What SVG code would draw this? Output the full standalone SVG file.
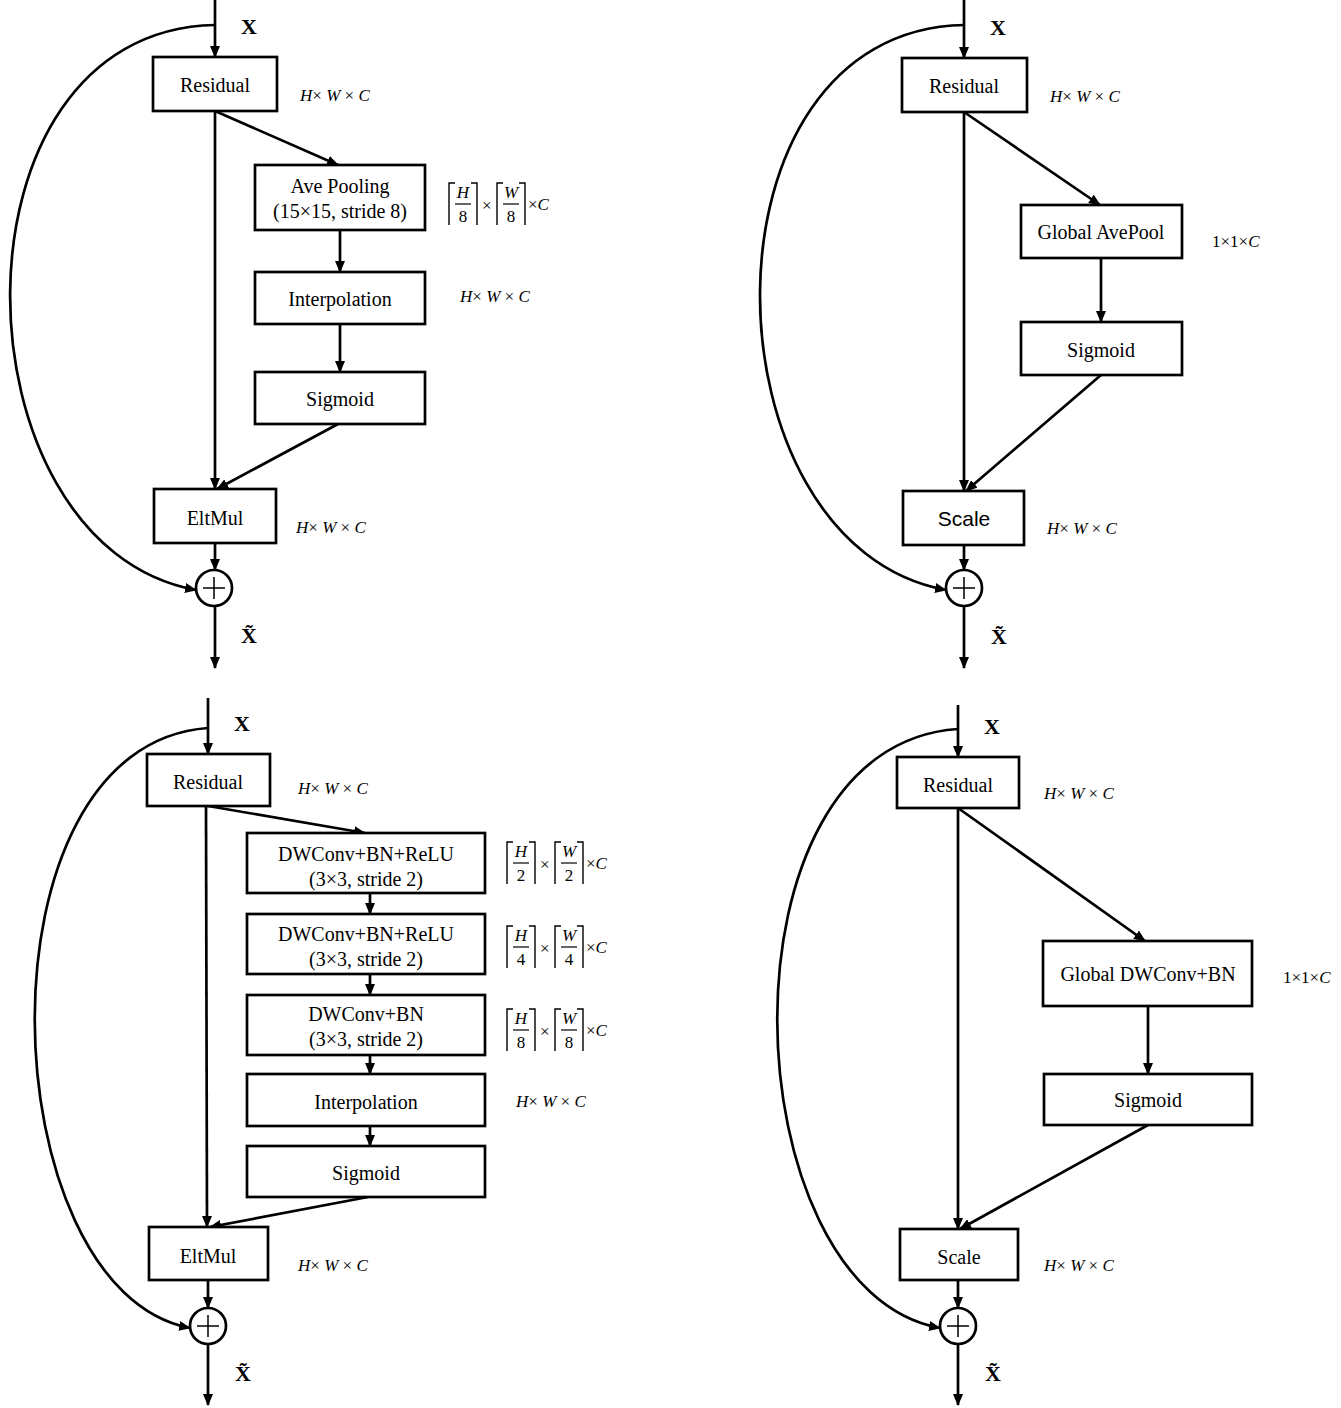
<svg xmlns="http://www.w3.org/2000/svg" width="1341" height="1408" viewBox="0 0 1341 1408">
<defs>
<marker id="ah" markerWidth="12" markerHeight="10" refX="11" refY="5" orient="auto" markerUnits="userSpaceOnUse"><path d="M0,0 L12,5 L0,10 z" fill="#000"/></marker>
<g id="frac"><path d="M6,0 H0 V42 M22,0 H28 V42" fill="none" stroke="#000" stroke-width="1.4"/><line x1="6" y1="21" x2="22" y2="21" stroke="#000" stroke-width="1.2"/></g>
</defs>
<style>
.b{fill:#fff;stroke:#000;stroke-width:2.7}
.c{fill:none;stroke:#000;stroke-width:2.7}
.t{font-family:"Liberation Serif",serif;font-size:20px;text-anchor:middle}
.s{font-family:"Liberation Sans",sans-serif;font-size:21px;text-anchor:middle}
.m{font-family:"Liberation Serif",serif;font-size:17px;font-style:italic}
.n{font-family:"Liberation Serif",serif;font-size:17px;font-style:normal}
.x{font-family:"Liberation Serif",serif;font-size:22px;font-weight:bold}
</style>
<g id="connectors">
<line class="c" x1="215" y1="0" x2="215" y2="57" marker-end="url(#ah)"/>
<line class="c" x1="215" y1="111" x2="338" y2="165" marker-end="url(#ah)"/>
<line class="c" x1="340" y1="230" x2="340" y2="272" marker-end="url(#ah)"/>
<line class="c" x1="340" y1="324" x2="340" y2="372" marker-end="url(#ah)"/>
<line class="c" x1="338" y1="424" x2="217" y2="489" marker-end="url(#ah)"/>
<line class="c" x1="215" y1="111" x2="215" y2="489" marker-end="url(#ah)"/>
<line class="c" x1="215" y1="543" x2="215" y2="570" marker-end="url(#ah)"/>
<line class="c" x1="215" y1="606" x2="215" y2="668" marker-end="url(#ah)"/>
<path class="c" d="M215,25 C-60,30 -50,545 196,590" marker-end="url(#ah)"/>
<line class="c" x1="964" y1="0" x2="964" y2="58" marker-end="url(#ah)"/>
<line class="c" x1="964" y1="112" x2="1100" y2="205" marker-end="url(#ah)"/>
<line class="c" x1="1101" y1="258" x2="1101" y2="322" marker-end="url(#ah)"/>
<line class="c" x1="1101" y1="375" x2="966" y2="491" marker-end="url(#ah)"/>
<line class="c" x1="964" y1="112" x2="964" y2="491" marker-end="url(#ah)"/>
<line class="c" x1="964" y1="545" x2="964" y2="570" marker-end="url(#ah)"/>
<line class="c" x1="964" y1="606" x2="964" y2="668" marker-end="url(#ah)"/>
<path class="c" d="M964,25 C690,30 700,545 946,590" marker-end="url(#ah)"/>
<line class="c" x1="208" y1="698" x2="208" y2="754" marker-end="url(#ah)"/>
<line class="c" x1="208" y1="806" x2="365" y2="833" marker-end="url(#ah)"/>
<line class="c" x1="370" y1="893" x2="370" y2="914" marker-end="url(#ah)"/>
<line class="c" x1="370" y1="974" x2="370" y2="995" marker-end="url(#ah)"/>
<line class="c" x1="370" y1="1055" x2="370" y2="1074" marker-end="url(#ah)"/>
<line class="c" x1="370" y1="1126" x2="370" y2="1146" marker-end="url(#ah)"/>
<line class="c" x1="368" y1="1197" x2="210" y2="1227" marker-end="url(#ah)"/>
<line class="c" x1="206" y1="806" x2="207" y2="1227" marker-end="url(#ah)"/>
<line class="c" x1="208" y1="1280" x2="208" y2="1308" marker-end="url(#ah)"/>
<line class="c" x1="208" y1="1344" x2="208" y2="1405" marker-end="url(#ah)"/>
<path class="c" d="M208,728 C-30,745 -10,1290 190,1328" marker-end="url(#ah)"/>
<line class="c" x1="958" y1="705" x2="958" y2="757" marker-end="url(#ah)"/>
<line class="c" x1="958" y1="808" x2="1145" y2="941" marker-end="url(#ah)"/>
<line class="c" x1="1148" y1="1006" x2="1148" y2="1074" marker-end="url(#ah)"/>
<line class="c" x1="1148" y1="1125" x2="960" y2="1229" marker-end="url(#ah)"/>
<line class="c" x1="958" y1="808" x2="958" y2="1229" marker-end="url(#ah)"/>
<line class="c" x1="958" y1="1280" x2="958" y2="1308" marker-end="url(#ah)"/>
<line class="c" x1="958" y1="1344" x2="958" y2="1405" marker-end="url(#ah)"/>
<path class="c" d="M958,729 C710,745 730,1290 940,1328" marker-end="url(#ah)"/>
</g>
<g id="p1-x"><text class="x" x="241" y="34">X</text></g>
<g id="p1-res"><rect class="b" x="153" y="57" width="124" height="54"/><text class="t" x="215" y="92">Residual</text><text class="m" x="300" y="101">H<tspan class="n">×</tspan> W <tspan class="n">×</tspan> C</text></g>
<g id="p1-pool"><rect class="b" x="255" y="165" width="170" height="65"/><text class="t" x="340" y="193">Ave Pooling</text><text class="t" x="340" y="218">(15×15, stride 8)</text>
<g transform="translate(449,183)"><use href="#frac"/><text class="m" x="14" y="15" text-anchor="middle">H</text><text class="n" x="14" y="39" text-anchor="middle">8</text><text class="n" x="33" y="28">×</text><use href="#frac" x="48"/><text class="m" x="62" y="15" text-anchor="middle">W</text><text class="n" x="62" y="39" text-anchor="middle">8</text><text class="m" x="79" y="27"><tspan class="n">×</tspan>C</text></g></g>
<g id="p1-interp"><rect class="b" x="255" y="272" width="170" height="52"/><text class="t" x="340" y="306">Interpolation</text><text class="m" x="460" y="302">H<tspan class="n">×</tspan> W <tspan class="n">×</tspan> C</text></g>
<g id="p1-sig"><rect class="b" x="255" y="372" width="170" height="52"/><text class="t" x="340" y="406">Sigmoid</text></g>
<g id="p1-elt"><rect class="b" x="154" y="489" width="122" height="54"/><text class="t" x="215" y="525">EltMul</text><text class="m" x="296" y="533">H<tspan class="n">×</tspan> W <tspan class="n">×</tspan> C</text></g>
<g id="p1-add"><circle class="b" cx="214" cy="588" r="18"/><path d="M203,588 H225 M214,577 V599" stroke="#000" stroke-width="1.5"/><text class="x" x="241" y="643">X̃</text></g>
<g id="p2-x"><text class="x" x="990" y="35">X</text></g>
<g id="p2-res"><rect class="b" x="902" y="58" width="125" height="54"/><text class="t" x="964" y="93">Residual</text><text class="m" x="1050" y="102">H<tspan class="n">×</tspan> W <tspan class="n">×</tspan> C</text></g>
<g id="p2-gap"><rect class="b" x="1021" y="205" width="161" height="53"/><text class="t" x="1101" y="239">Global AvePool</text><text class="m" x="1212" y="247"><tspan class="n">1×1×</tspan>C</text></g>
<g id="p2-sig"><rect class="b" x="1021" y="322" width="161" height="53"/><text class="t" x="1101" y="357">Sigmoid</text></g>
<g id="p2-scale"><rect class="b" x="903" y="491" width="121" height="54"/><text class="s" x="964" y="526">Scale</text><text class="m" x="1047" y="534">H<tspan class="n">×</tspan> W <tspan class="n">×</tspan> C</text></g>
<g id="p2-add"><circle class="b" cx="964" cy="588" r="18"/><path d="M953,588 H975 M964,577 V599" stroke="#000" stroke-width="1.5"/><text class="x" x="991" y="644">X̃</text></g>
<g id="p3-x"><text class="x" x="234" y="731">X</text></g>
<g id="p3-res"><rect class="b" x="147" y="754" width="123" height="52"/><text class="t" x="208" y="789">Residual</text><text class="m" x="298" y="794">H<tspan class="n">×</tspan> W <tspan class="n">×</tspan> C</text></g>
<g id="p3-dw1"><rect class="b" x="247" y="833" width="238" height="60"/><text class="t" x="366" y="861">DWConv+BN+ReLU</text><text class="t" x="366" y="886">(3×3, stride 2)</text>
<g transform="translate(507,842)"><use href="#frac"/><text class="m" x="14" y="15" text-anchor="middle">H</text><text class="n" x="14" y="39" text-anchor="middle">2</text><text class="n" x="33" y="28">×</text><use href="#frac" x="48"/><text class="m" x="62" y="15" text-anchor="middle">W</text><text class="n" x="62" y="39" text-anchor="middle">2</text><text class="m" x="79" y="27"><tspan class="n">×</tspan>C</text></g></g>
<g id="p3-dw2"><rect class="b" x="247" y="914" width="238" height="60"/><text class="t" x="366" y="941">DWConv+BN+ReLU</text><text class="t" x="366" y="966">(3×3, stride 2)</text>
<g transform="translate(507,926)"><use href="#frac"/><text class="m" x="14" y="15" text-anchor="middle">H</text><text class="n" x="14" y="39" text-anchor="middle">4</text><text class="n" x="33" y="28">×</text><use href="#frac" x="48"/><text class="m" x="62" y="15" text-anchor="middle">W</text><text class="n" x="62" y="39" text-anchor="middle">4</text><text class="m" x="79" y="27"><tspan class="n">×</tspan>C</text></g></g>
<g id="p3-dw3"><rect class="b" x="247" y="995" width="238" height="60"/><text class="t" x="366" y="1021">DWConv+BN</text><text class="t" x="366" y="1046">(3×3, stride 2)</text>
<g transform="translate(507,1009)"><use href="#frac"/><text class="m" x="14" y="15" text-anchor="middle">H</text><text class="n" x="14" y="39" text-anchor="middle">8</text><text class="n" x="33" y="28">×</text><use href="#frac" x="48"/><text class="m" x="62" y="15" text-anchor="middle">W</text><text class="n" x="62" y="39" text-anchor="middle">8</text><text class="m" x="79" y="27"><tspan class="n">×</tspan>C</text></g></g>
<g id="p3-interp"><rect class="b" x="247" y="1074" width="238" height="52"/><text class="t" x="366" y="1109">Interpolation</text><text class="m" x="516" y="1107">H<tspan class="n">×</tspan> W <tspan class="n">×</tspan> C</text></g>
<g id="p3-sig"><rect class="b" x="247" y="1146" width="238" height="51"/><text class="t" x="366" y="1180">Sigmoid</text></g>
<g id="p3-elt"><rect class="b" x="149" y="1227" width="119" height="53"/><text class="t" x="208" y="1263">EltMul</text><text class="m" x="298" y="1271">H<tspan class="n">×</tspan> W <tspan class="n">×</tspan> C</text></g>
<g id="p3-add"><circle class="b" cx="208" cy="1326" r="18"/><path d="M197,1326 H219 M208,1315 V1337" stroke="#000" stroke-width="1.5"/><text class="x" x="235" y="1381">X̃</text></g>
<g id="p4-x"><text class="x" x="984" y="734">X</text></g>
<g id="p4-res"><rect class="b" x="897" y="757" width="122" height="51"/><text class="t" x="958" y="792">Residual</text><text class="m" x="1044" y="799">H<tspan class="n">×</tspan> W <tspan class="n">×</tspan> C</text></g>
<g id="p4-gdw"><rect class="b" x="1043" y="941" width="209" height="65"/><text class="t" x="1148" y="981">Global DWConv+BN</text><text class="m" x="1283" y="983"><tspan class="n">1×1×</tspan>C</text></g>
<g id="p4-sig"><rect class="b" x="1044" y="1074" width="208" height="51"/><text class="t" x="1148" y="1107">Sigmoid</text></g>
<g id="p4-scale"><rect class="b" x="900" y="1229" width="118" height="51"/><text class="t" x="959" y="1264">Scale</text><text class="m" x="1044" y="1271">H<tspan class="n">×</tspan> W <tspan class="n">×</tspan> C</text></g>
<g id="p4-add"><circle class="b" cx="958" cy="1326" r="18"/><path d="M947,1326 H969 M958,1315 V1337" stroke="#000" stroke-width="1.5"/><text class="x" x="985" y="1381">X̃</text></g>
</svg>
